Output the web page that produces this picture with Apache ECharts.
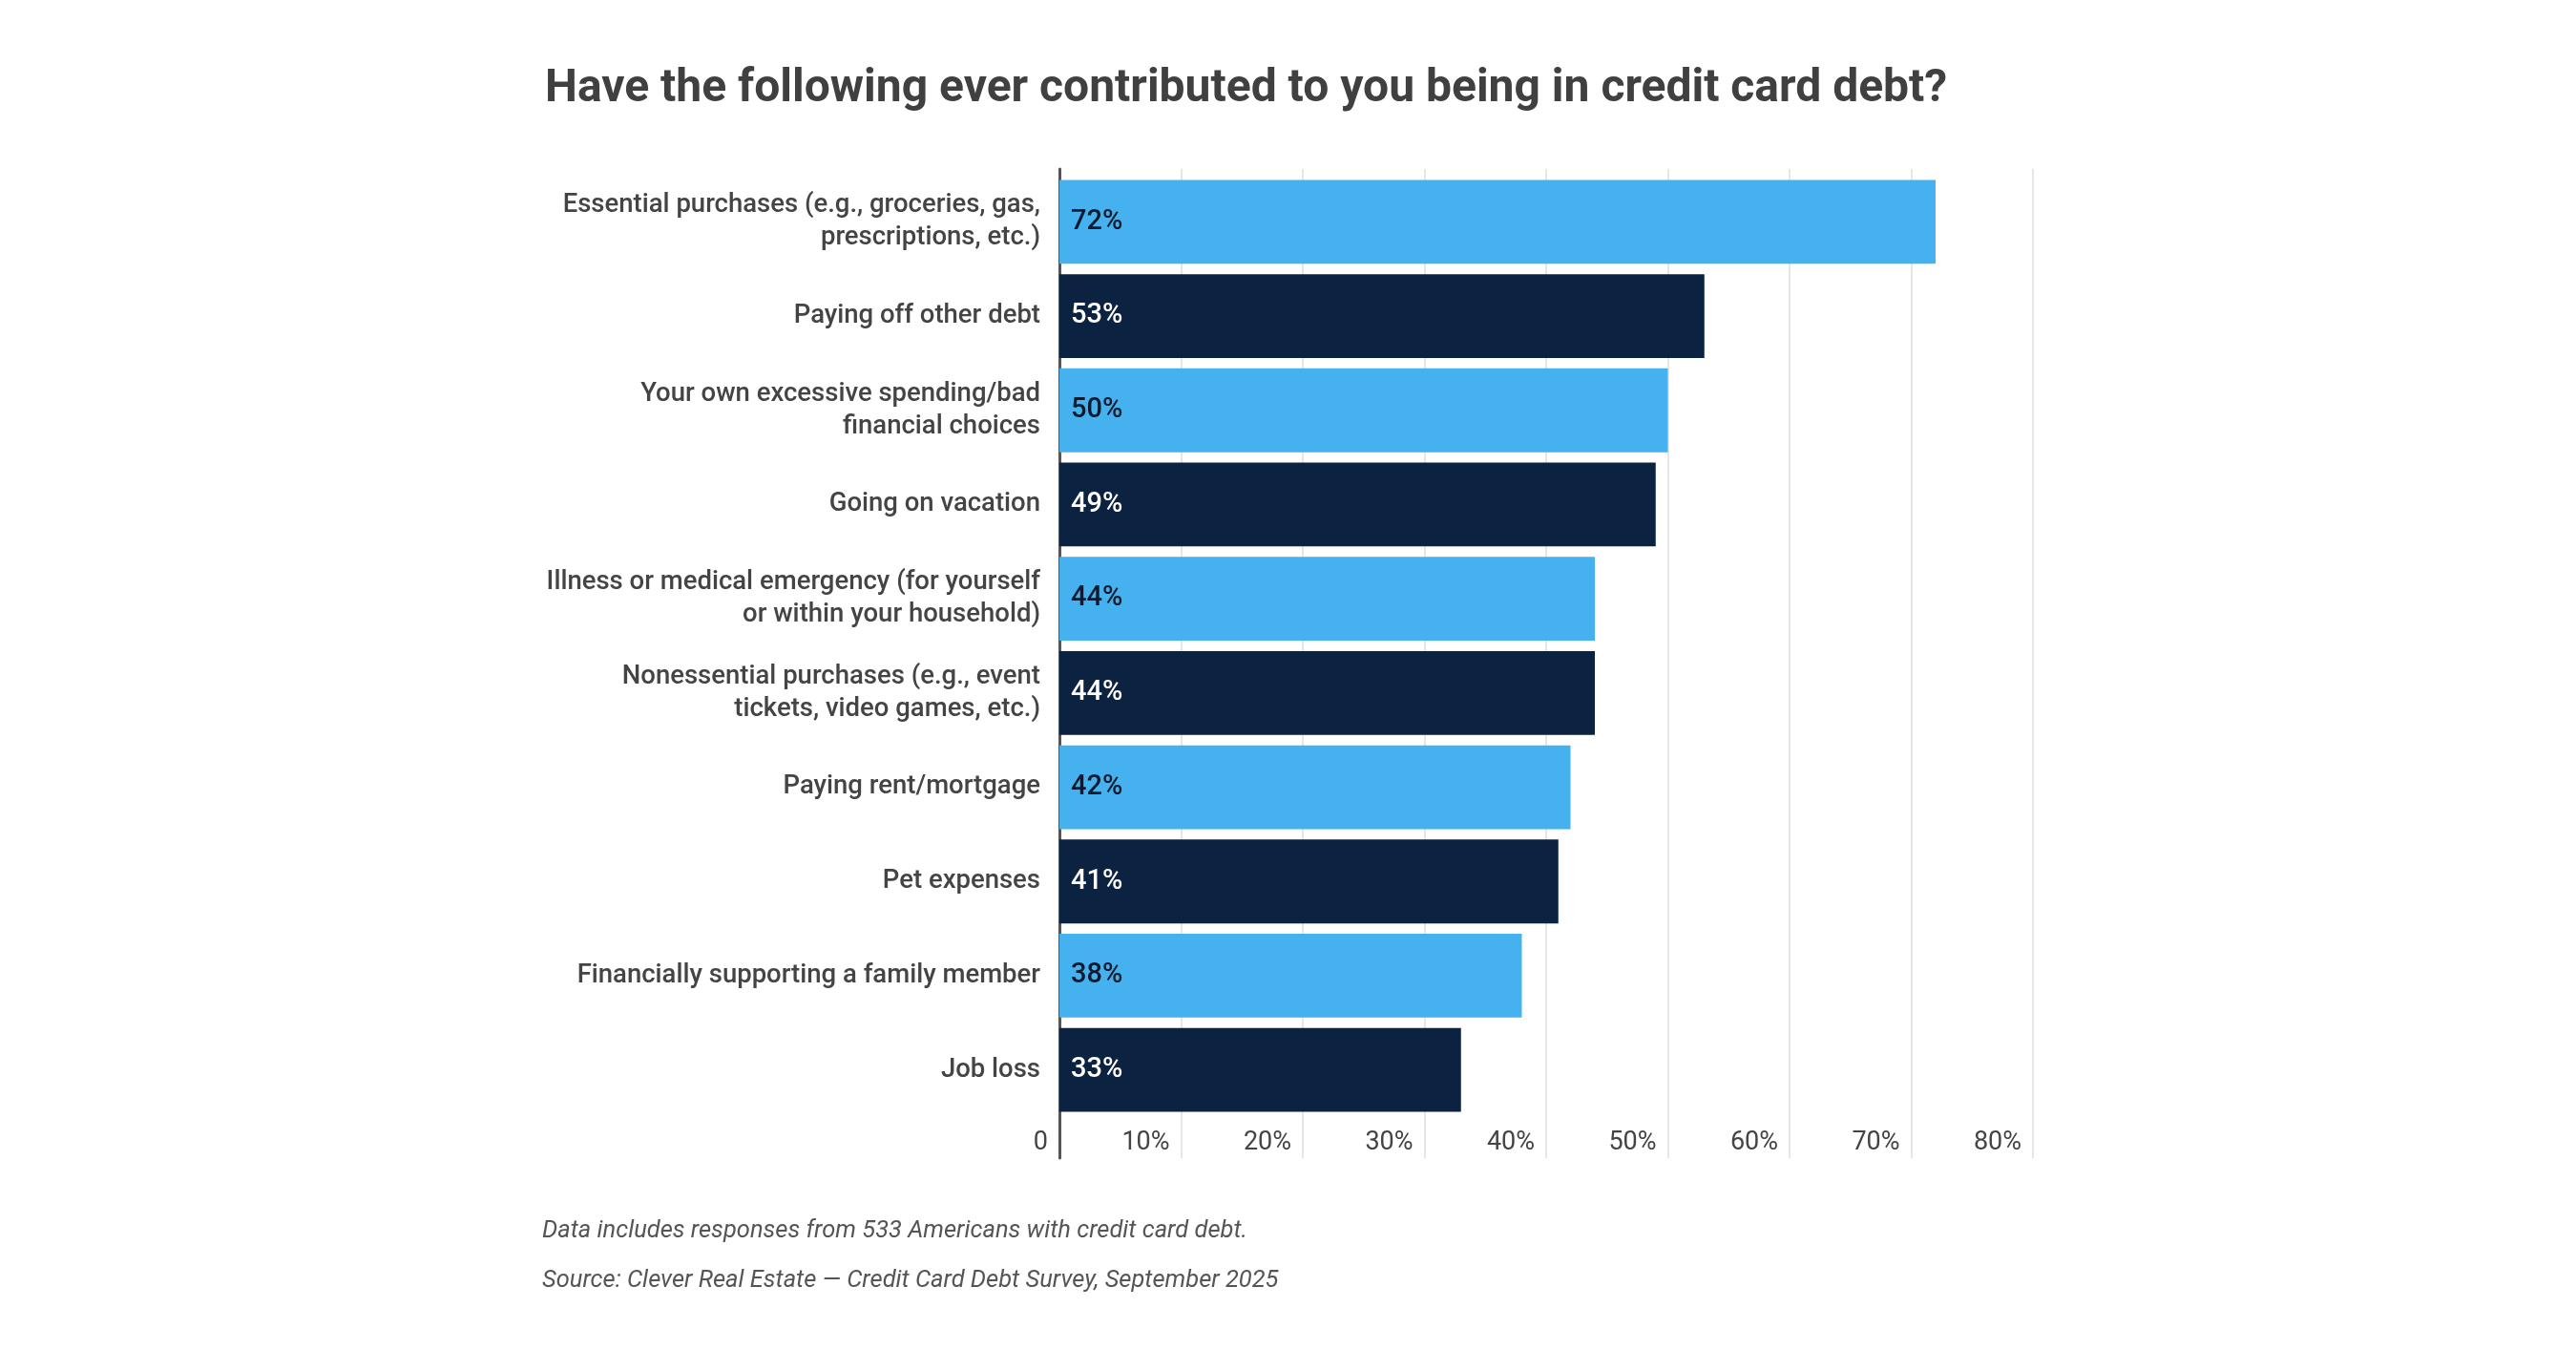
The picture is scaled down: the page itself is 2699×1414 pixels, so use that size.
<!DOCTYPE html>
<html><head><meta charset="utf-8">
<script src="https://cdn.jsdelivr.net/npm/echarts@6/dist/echarts.min.js"></script>
<style>html,body{margin:0;padding:0;background:#fff}#c{width:2699px;height:1414px}</style>
</head><body><div id="c"></div>
<script>
const categories = [
  "Essential purchases (e.g., groceries, gas,\nprescriptions, etc.)",
  "Paying off other debt",
  "Your own excessive spending/bad\nfinancial choices",
  "Going on vacation",
  "Illness or medical emergency (for yourself\nor within your household)",
  "Nonessential purchases (e.g., event\ntickets, video games, etc.)",
  "Paying rent/mortgage",
  "Pet expenses",
  "Financially supporting a family member",
  "Job loss"
];
const values = [72, 53, 50, 49, 44, 44, 42, 41, 38, 33];
const tickLabels = ["0", "10%", "20%", "30%", "40%", "50%", "60%", "70%", "80%"];
const titleText = "Have the following ever contributed to you being in credit card debt?";
const note1 = "Data includes responses from 533 Americans with credit card debt.";
const note2 = "Source: Clever Real Estate \u2014 Credit Card Debt Survey, September 2025";

const LIGHT = "#45B1EE", DARK = "#0B2340";
const FONT = "Roboto";

const chart = echarts.init(document.getElementById('c'), null, {renderer: 'canvas'});
chart.setOption({
  backgroundColor: '#fff',
  animation: false,
  textStyle: {fontFamily: FONT},
  title: {
    text: titleText, left: 566, top: 65,
    textStyle: {fontFamily: FONT, fontSize: 48, fontWeight: 'bold', color: '#404040'}
  },
  grid: [
    {left: 1110, right: 569, top: 183, height: 987},
    {left: 1110, right: 569, top: 177, bottom: 201}
  ],
  xAxis: [
    {
      gridIndex: 0, type: 'value', min: 0, max: 80, interval: 10,
      axisLine: {show: false}, axisTick: {show: false}, splitLine: {show: false},
      axisLabel: {
        margin: 14, align: 'right', padding: [0, 12, 0, 0],
        fontFamily: FONT, fontSize: 27, color: '#444',
        formatter: (v) => tickLabels[Math.round(v / 10)]
      }
    },
    {
      gridIndex: 1, type: 'value', min: 0, max: 80, interval: 10,
      axisLine: {show: false}, axisTick: {show: false}, axisLabel: {show: false},
      splitLine: {show: true, lineStyle: {color: '#E6E6E6', width: 2}}
    }
  ],
  yAxis: [
    {
      gridIndex: 0, type: 'category', data: categories, inverse: true,
      axisLine: {show: false}, axisTick: {show: false},
      axisLabel: {
        margin: 20, fontFamily: FONT, fontSize: 27.5, fontWeight: 500, color: '#444',
        lineHeight: 34, align: 'right'
      }
    },
    {
      gridIndex: 1, type: 'category', data: [''],
      axisLine: {show: true, lineStyle: {color: '#555', width: 3}},
      axisTick: {show: false}, axisLabel: {show: false}
    }
  ],
  series: [{
    type: 'bar', xAxisIndex: 0, yAxisIndex: 0,
    data: values.map((v, i) => ({value: v, label: {color: i % 2 === 0 ? '#0B1A2E' : '#FFFFFF'}})),
    barCategoryGap: '11%',
    itemStyle: {color: (p) => (p.dataIndex % 2 === 0 ? LIGHT : DARK)},
    label: {
      show: true, position: 'insideLeft', distance: 12,
      fontFamily: FONT, fontSize: 29, fontWeight: 500,
      formatter: (p) => p.value + '%'
    }
  }],
  graphic: [
    {type: 'text', left: 568, top: 1277, style: {text: note1, font: 'italic 25.5px Roboto', fill: '#555'}},
    {type: 'text', left: 568, top: 1329, style: {text: note2, font: 'italic 25.5px Roboto', fill: '#555'}}
  ]
});
</script></body></html>
